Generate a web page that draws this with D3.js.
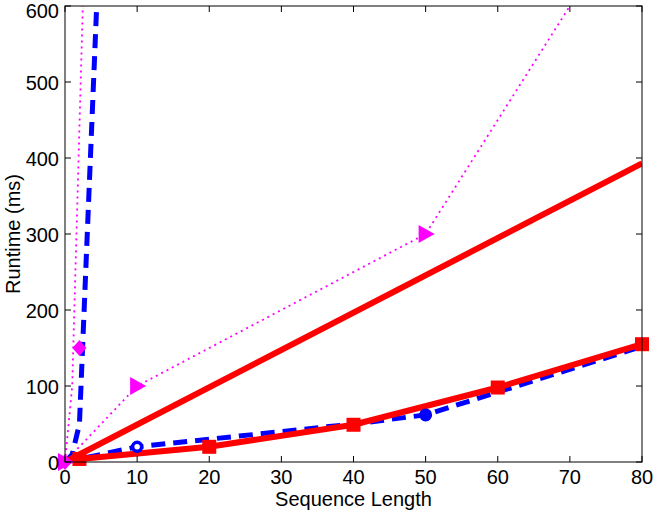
<!DOCTYPE html>
<html><head><meta charset="utf-8">
<script src="https://cdn.jsdelivr.net/npm/d3@7"></script>
<style>
body{margin:0;background:#fff;}
svg{display:block;font-family:"Liberation Sans",Arial,Helvetica,sans-serif;}
</style></head>
<body><svg id="chart" width="654" height="511"></svg>
<script>
// ---- data ----
const xTicks = [0,10,20,30,40,50,60,70,80];
const yTicks = [0,100,200,300,400,500,600];
const xLabel = "Sequence Length";
const yLabel = "Runtime (ms)";

// steep blue dashed curve
const blueSteepX = [0,1,2,5];
const blueSteepY = [0,10,50,740];
// blue dashed with circles
const blueX = [0,10,20,40,50,60,80];
const blueY = [0,20,30,50,62,92,152];
// steep magenta dotted line
const magSteepX = [0,1,3];
const magSteepY = [0,100,780];
// magenta dotted with triangles
const magX = [0,10,50,80];
const magY = [0,100,300,750];
const triX = [0,10,50];
const triY = [0,100,300];
// magenta diamonds
const diaX = [0,2];
const diaY = [0,150];
// red straight line
const redLineX = [0,80];
const redLineY = [0,393];
// red with squares
const redX = [2,20,40,60,80];
const redY = [4,20,49,98,155];
// blue circle markers
const openCircX = [10], openCircY = [20];
const fillCircX = [50], fillCircY = [62];

const zip = (xs,ys)=>xs.map((x,i)=>[x,ys[i]]);

const svg = d3.select("#chart");
const L=65, R=642, T=6, B=462;
const x = d3.scaleLinear().domain([0,80]).range([L,R]);
const y = d3.scaleLinear().domain([0,600]).range([B,T]);

svg.append("defs").append("clipPath").attr("id","clip")
  .append("rect").attr("x",L).attr("y",T).attr("width",R-L).attr("height",B-T);

const line = d3.line().x(d=>x(d[0])).y(d=>y(d[1]));
const g = svg.append("g").attr("clip-path","url(#clip)");

const MAG="#ff00ff", BLUE="#0000ff", RED="#ff0000";
g.append("path").attr("d",line(zip(magSteepX,magSteepY))).attr("fill","none")
  .attr("stroke",MAG).attr("stroke-width",1.8).attr("stroke-dasharray","2,4");
g.append("path").attr("d",line(zip(magX,magY))).attr("fill","none")
  .attr("stroke",MAG).attr("stroke-width",1.8).attr("stroke-dasharray","2,4");
g.append("path").attr("d",line(zip(blueSteepX,blueSteepY))).attr("fill","none")
  .attr("stroke",BLUE).attr("stroke-width",5).attr("stroke-dasharray","14,8");
g.append("path").attr("d",line(zip(blueX,blueY))).attr("fill","none")
  .attr("stroke",BLUE).attr("stroke-width",5).attr("stroke-dasharray","14,8");
g.append("path").attr("d",line(zip(redLineX,redLineY))).attr("fill","none")
  .attr("stroke",RED).attr("stroke-width",6);
g.append("path").attr("d",line(zip(redX,redY))).attr("fill","none")
  .attr("stroke",RED).attr("stroke-width",6);

// markers
const m = svg.append("g");
m.selectAll(".sq").data(zip(redX,redY)).join("rect")
  .attr("x",d=>x(d[0])-7).attr("y",d=>y(d[1])-7).attr("width",14).attr("height",14).attr("fill",RED);
m.selectAll(".oc").data(zip(openCircX,openCircY)).join("circle")
  .attr("cx",d=>x(d[0])).attr("cy",d=>y(d[1])).attr("r",4.5).attr("fill","#fff")
  .attr("stroke",BLUE).attr("stroke-width",3.5);
m.selectAll(".fc").data(zip(fillCircX,fillCircY)).join("circle")
  .attr("cx",d=>x(d[0])).attr("cy",d=>y(d[1])).attr("r",6.5).attr("fill",BLUE);
m.selectAll(".dia").data(zip(diaX,diaY)).join("path")
  .attr("d",d=>{const cx=x(d[0]),cy=y(d[1]);return `M${cx},${cy-8}L${cx+7},${cy}L${cx},${cy+8}L${cx-7},${cy}Z`;})
  .attr("fill",MAG);
m.selectAll(".tri").data(zip(triX,triY)).join("path")
  .attr("d",d=>{const cx=x(d[0]),cy=y(d[1]);return `M${cx+9},${cy}L${cx-7},${cy-9}L${cx-7},${cy+9}Z`;})
  .attr("fill",MAG);

// axes box
const ax = svg.append("g").attr("stroke","#000").attr("stroke-width",1);
ax.append("rect").attr("x",L).attr("y",T).attr("width",R-L).attr("height",B-T).attr("fill","none");
xTicks.forEach(t=>{
  ax.append("line").attr("x1",x(t)).attr("x2",x(t)).attr("y1",B).attr("y2",B-6);
  ax.append("line").attr("x1",x(t)).attr("x2",x(t)).attr("y1",T).attr("y2",T+6);
});
yTicks.forEach(t=>{
  ax.append("line").attr("x1",L).attr("x2",L+6).attr("y1",y(t)).attr("y2",y(t));
  ax.append("line").attr("x1",R).attr("x2",R-6).attr("y1",y(t)).attr("y2",y(t));
});
const fs=20;
svg.append("g").selectAll("text").data(xTicks).join("text")
  .attr("x",d=>x(d)).attr("y",B+22).attr("text-anchor","middle")
  .attr("font-size",fs).attr("fill","#000").text(d=>d);
svg.append("g").selectAll("text").data(yTicks).join("text")
  .attr("x",L-6).attr("y",d=>Math.max(y(d)+8,18)).attr("text-anchor","end")
  .attr("font-size",fs).attr("fill","#000").text(d=>d);
svg.append("text").attr("x",(L+R)/2).attr("y",B+44).attr("text-anchor","middle")
  .attr("font-size",fs).attr("fill","#000").text(xLabel);
svg.append("text").attr("transform",`translate(20,${(T+B)/2}) rotate(-90)`)
  .attr("text-anchor","middle").attr("font-size",fs).attr("fill","#000").text(yLabel);
</script></body></html>
